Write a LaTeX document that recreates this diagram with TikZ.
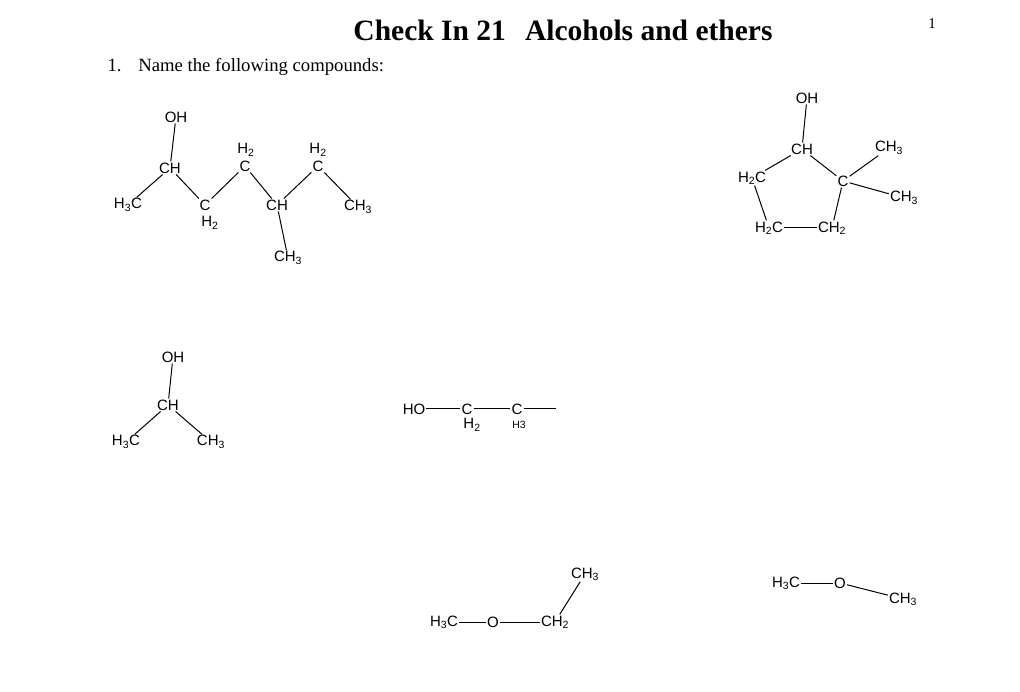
\documentclass[tikz,border=0pt]{standalone}
\usepackage{fontspec}
\setmainfont{Liberation Serif}
\newfontfamily\chemf{Liberation Sans}
\begin{document}
\begin{tikzpicture}[x=1pt,y=-1pt,
  a/.style={font=\chemf\fontsize{15}{15}\selectfont,inner sep=1pt},
  b/.style={line width=1pt},
  sm/.style={font=\chemf\fontsize{10.5}{10.5}\selectfont,inner sep=1pt}]
\useasboundingbox (0,0) rectangle (1020,692);
\node[font=\bfseries\fontsize{29.5}{29.5}\selectfont] (title) at (563,30) {Check In 21\hspace{0.4em} Alcohols and ethers};
\node[font=\fontsize{15}{15}\selectfont] (pg) at (932,24) {1};
\node[font=\fontsize{18.7}{18.7}\selectfont,anchor=west] (q) at (104,67) {1.\hspace{0.9em}Name the following compounds:};
% molecule 1
\node[a] (m1oh) at (176,117) {OH};
\node[a] (m1ch) at (170,168) {CH};
\node[a] (m1me) at (128,205) {H\textsubscript{3}C};
\node[a] (m1c2) at (205,205) {C};
\node[a] (m1h2a) at (210,223) {H\textsubscript{2}};
\node[a] (m1c3) at (245,166) {C};
\node[a] (m1h2b) at (246,150) {H\textsubscript{2}};
\node[a] (m1ch4) at (277,205) {CH};
\node[a] (m1me4) at (288,258) {CH\textsubscript{3}};
\node[a] (m1c5) at (318,166) {C};
\node[a] (m1h2c) at (318,150) {H\textsubscript{2}};
\node[a] (m1me6) at (358,207) {CH\textsubscript{3}};
\draw[b] (m1oh) -- (m1ch);
\draw[b] (m1me) -- (m1ch);
\draw[b] (m1ch) -- (m1c2);
\draw[b] (m1c2) -- (m1c3);
\draw[b] (m1c3) -- (m1ch4);
\draw[b] (m1ch4) -- (m1me4);
\draw[b] (m1ch4) -- (m1c5);
\draw[b] (m1c5) -- (m1me6);
% molecule 2
\node[a] (m2oh) at (807,98) {OH};
\node[a] (m2ch) at (802,149) {CH};
\node[a] (m2me1) at (889,148) {CH\textsubscript{3}};
\node[a] (m2c) at (843,181) {C};
\node[a] (m2me2) at (904,198) {CH\textsubscript{3}};
\node[a] (m2c5) at (752,178) {H\textsubscript{2}C};
\node[a] (m2c4) at (769,228) {H\textsubscript{2}C};
\node[a] (m2c3) at (832,228) {CH\textsubscript{2}};
\draw[b] (m2oh) -- (m2ch);
\draw[b] (m2ch) -- (m2c);
\draw[b] (m2ch) -- (m2c5);
\draw[b] (m2c) -- (m2me1);
\draw[b] (m2c) -- (m2me2);
\draw[b] (m2c5) -- (m2c4);
\draw[b] (m2c4) -- (m2c3);
\draw[b] (m2c3) -- (m2c);
% molecule 3
\node[a] (m3oh) at (173,357) {OH};
\node[a] (m3ch) at (168,405) {CH};
\node[a] (m3me1) at (126,442) {H\textsubscript{3}C};
\node[a] (m3me2) at (211,442) {CH\textsubscript{3}};
\draw[b] (m3oh) -- (m3ch);
\draw[b] (m3ch) -- (m3me1);
\draw[b] (m3ch) -- (m3me2);
% molecule 4
\node[a] (m4oh) at (414,409) {HO};
\node[a] (m4c1) at (467,409) {C};
\node[a] (m4h2) at (472,425) {H\textsubscript{2}};
\node[a] (m4c2) at (517,409) {C};
\node[sm] (m4h3) at (519,425) {H3};
\coordinate (m4end) at (556,409);
\draw[b] (m4oh) -- (m4c1);
\draw[b] (m4c1) -- (m4c2);
\draw[b] (m4c2) -- (m4end);
% molecule 5
\node[a] (m5me) at (585,574) {CH\textsubscript{3}};
\node[a] (m5h3c) at (444,622) {H\textsubscript{3}C};
\node[a] (m5o) at (493,622) {O};
\node[a] (m5ch2) at (555,622) {CH\textsubscript{2}};
\draw[b] (m5h3c) -- (m5o);
\draw[b] (m5o) -- (m5ch2);
\draw[b] (m5ch2) -- (m5me);
% molecule 6
\node[a] (m6h3c) at (786,583) {H\textsubscript{3}C};
\node[a] (m6o) at (840,583) {O};
\node[a] (m6me) at (903,599) {CH\textsubscript{3}};
\draw[b] (m6h3c) -- (m6o);
\draw[b] (m6o) -- (m6me);
\end{tikzpicture}
\end{document}
